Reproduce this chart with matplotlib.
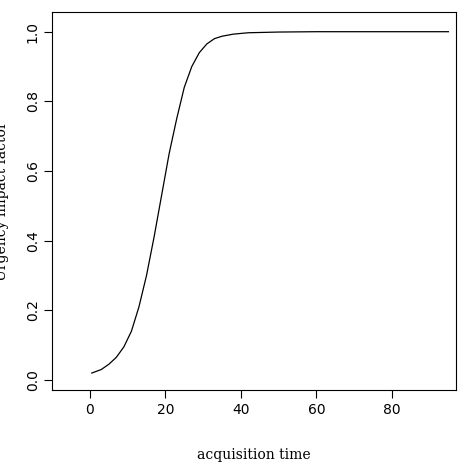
import matplotlib
matplotlib.use("Agg")
import matplotlib.pyplot as plt

x = [0.5, 3, 5, 7, 9, 11, 13, 15, 17, 19, 21, 23, 25, 27, 29, 31, 33, 35, 38, 42, 46, 50, 60, 70, 80, 95]
y = [0.02, 0.03, 0.045, 0.065, 0.095, 0.14, 0.21, 0.30, 0.41, 0.53, 0.65, 0.75, 0.84, 0.90, 0.94, 0.965, 0.98, 0.987, 0.993, 0.997, 0.998, 0.999, 1.0, 1.0, 1.0, 1.0]
xticks = [0, 20, 40, 60, 80]
yticks = [0.0, 0.2, 0.4, 0.6, 0.8, 1.0]

fig = plt.figure(figsize=(4.74, 4.74), dpi=100)
ax = fig.add_axes([0.11, 0.177, 0.852, 0.798])
ax.plot(x, y, color="black", lw=0.9)
ax.set_xlim(-10, 97)
ax.set_ylim(-0.029, 1.057)
ax.set_xticks(xticks)
ax.set_yticks(yticks)
ax.set_yticklabels([f"{v:.1f}" for v in yticks], rotation=90, va="center")
ax.tick_params(direction="out", length=6, labelsize=10)
ax.tick_params(axis="y", pad=3)
for s in ax.spines.values():
    s.set_linewidth(0.8)
ax.set_xlabel("acquisition time", family="DejaVu Serif", fontsize=10, labelpad=22)
ax.set_ylabel("Urgency impact factor", family="DejaVu Serif", fontsize=10, labelpad=12)
fig.savefig("out.png", dpi=100)
